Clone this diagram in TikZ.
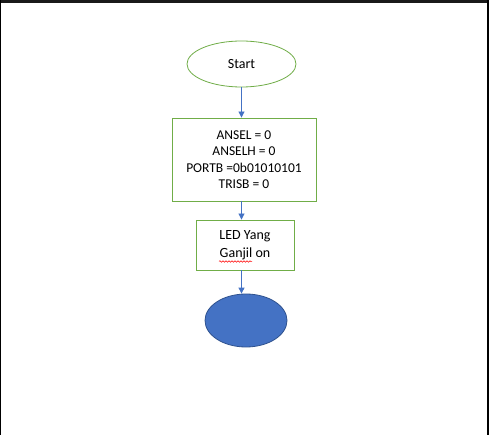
\documentclass[tikz,border=0pt]{standalone}
\usepackage{fontspec}
\setmainfont{Carlito}
\usetikzlibrary{arrows.meta,shapes.geometric,decorations.pathmorphing}
\definecolor{offgreen}{HTML}{70AD47}
\definecolor{offblue}{HTML}{4472C4}
\definecolor{offdblue}{HTML}{2F528F}
\begin{document}
\begin{tikzpicture}[x=1pt,y=-1pt,
  startshape/.style={ellipse,draw=offgreen,line width=0.8pt,fill=white,inner sep=0pt,minimum width=109pt,minimum height=46pt,font=\fontsize{14}{17}\selectfont},
  procbox/.style={rectangle,draw=offgreen,line width=0.9pt,fill=white,inner sep=0pt,align=center},
  endshape/.style={ellipse,draw=offdblue,line width=0.8pt,fill=offblue,inner sep=0pt,minimum width=82pt,minimum height=53pt},
  flow/.style={draw=offblue,line width=0.9pt,-{Triangle[length=6pt,width=6pt]}}]
\useasboundingbox (0,0) rectangle (489,435);
\fill[white] (0,0) rectangle (489,435);
\fill[black!90] (0,0) rectangle (489,3);
\fill[black] (487,0) rectangle (489,435);
\fill[black] (0,0) rectangle (1,435);
\node[startshape] (start) at (241.5,64) {Start};
\node[procbox,minimum width=144pt,minimum height=83pt,font=\fontsize{13.5}{16.5}\selectfont] (init) at (244,159.5) {ANSEL = 0\\ANSELH = 0\\PORTB =0b01010101\\TRISB = 0};
\node[procbox,minimum width=98pt,minimum height=50pt,font=\fontsize{14}{18}\selectfont] (led) at (245,245) {LED Yang\\Ganjil on};
\node[endshape] (stop) at (246,320.5) {};
\coordinate (sq1) at (219,261.5);
\coordinate (sq2) at (252,261.5);
\draw[red,line width=0.5pt,decorate,decoration={snake,amplitude=0.8pt,segment length=3pt}] (sq1) -- (sq2);
\draw[flow] (start.south) -- (start.south |- init.north);
\draw[flow] (start.south |- init.south) -- (start.south |- led.north);
\draw[flow] (start.south |- led.south) -- (start.south |- stop.north);
\end{tikzpicture}
\end{document}
